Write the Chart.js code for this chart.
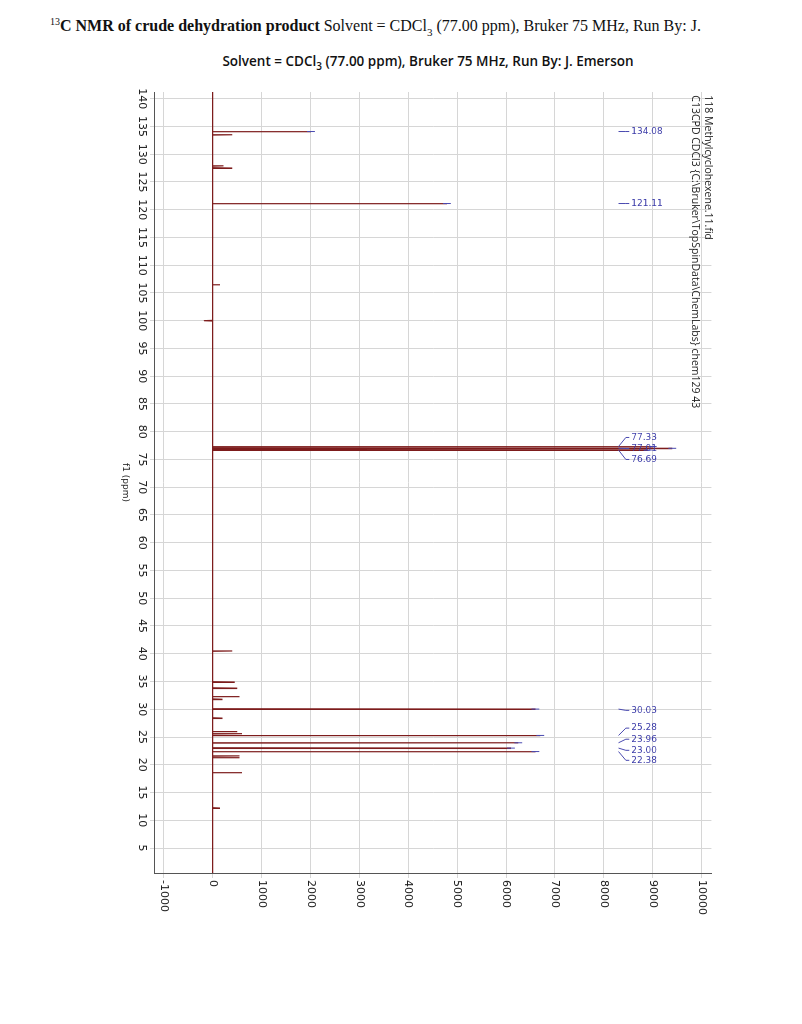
<!DOCTYPE html>
<html><head><meta charset="utf-8">
<script src="https://cdn.jsdelivr.net/npm/chart.js@4/dist/chart.umd.min.js"></script>
<style>
body{margin:0;background:#fff;width:802px;height:1024px;position:relative;overflow:hidden}
#title{position:absolute;left:50px;top:16px;font:16px "Liberation Serif",serif;color:#111;white-space:nowrap}
#sub{position:absolute;left:0;width:856px;top:52px;text-align:center;font:600 13.5px "Open Sans",sans-serif;color:#111}
#wrap{position:absolute;left:0;top:0;width:836px;height:600px;transform-origin:0 0;transform:translate(720px,85px) rotate(90deg)}
</style></head><body>
<div id="title"><sup style="font-size:10px">13</sup><b>C NMR of crude dehydration product</b> Solvent = CDCl<sub style="font-size:11px">3</sub> (77.00 ppm), Bruker 75 MHz, Run By: J.</div>
<div id="sub">Solvent = CDCl<sub style="font-size:10px">3</sub> (77.00 ppm), Bruker 75 MHz, Run By: J. Emerson</div>
<div id="wrap"><canvas id="c" width="836" height="600"></canvas></div>
<script>
// peak positions (ppm) and heights
const peakPpm    = [134.08, 133.5, 127.9, 127.5, 121.11, 106.5, 100.0, 77.33, 77.01, 76.69, 40.5, 34.9, 33.8, 32.3, 31.8, 30.03, 28.4, 26.0, 25.6, 25.28, 23.96, 23.00, 22.38, 21.6, 21.3, 18.6, 12.2];
const peakHeight = [2010, 400, 220, 400, 4790, 150, -180, 9000, 9400, 8900, 400, 450, 500, 550, 200, 6600, 200, 500, 600, 6700, 6250, 6100, 6600, 550, 550, 600, 150];
// labelled peaks and where their text sits on the ppm axis
const labelText = ['134.08', '121.11', '77.33', '77.01', '76.69', '30.03', '25.28', '23.96', '23.00', '22.38'];
const labelPpm  = [134.08, 121.11, 78.96, 76.98, 75.0, 29.8, 26.6, 24.6, 22.6, 20.8];
const ppmTicks = [140,135,130,125,120,115,110,105,100,95,90,85,80,75,70,65,60,55,50,45,40,35,30,25,20,15,10,5];
const intTicks = [-1000,0,1000,2000,3000,4000,5000,6000,7000,8000,9000,10000];

const spec = [{x:141.2,y:0}];
peakPpm.forEach((p,i)=>{spec.push({x:p+0.06,y:0},{x:p,y:peakHeight[i]},{x:p-0.06,y:0});});
spec.push({x:0.5,y:0});

const annot = {
  id:'annot',
  afterDatasetsDraw(chart){
    const c=chart.ctx, xs=chart.scales.x, ys=chart.scales.y;
    c.save();
    c.strokeStyle='#4a4ab0'; c.fillStyle='#3a3aa8'; c.lineWidth=1;
    labelText.forEach(t=>{
      const p=parseFloat(t), i=peakPpm.indexOf(p);
      if(i<0) return;
      c.beginPath(); c.moveTo(xs.getPixelForValue(p),ys.getPixelForValue(peakHeight[i]-80));
      c.lineTo(xs.getPixelForValue(p),ys.getPixelForValue(peakHeight[i]+80)); c.stroke();
    });
    labelText.forEach((t,i)=>{
      const p=parseFloat(t), lp=labelPpm[i];
      const x0=xs.getPixelForValue(p), x1=xs.getPixelForValue(lp);
      c.beginPath();
      c.moveTo(x0,ys.getPixelForValue(8300));
      c.lineTo(x1,ys.getPixelForValue(8450));
      c.lineTo(x1,ys.getPixelForValue(8520));
      c.stroke();
      c.save(); c.translate(x1,ys.getPixelForValue(8560)); c.rotate(-Math.PI/2);
      c.font='9px "DejaVu Sans"'; c.textBaseline='middle'; c.textAlign='left';
      c.fillText(t,0,0); c.restore();
    });
    c.fillStyle='#222'; c.font='10.5px "Open Sans"'; c.textBaseline='middle';
    c.fillText('118 Methylcyclohexene.11.fid', xs.getPixelForValue(140.6), 12);
    c.fillText('C13CPD CDCl3 {C:\\Bruker\\TopSpinData\\ChemLabs} chem129 43', xs.getPixelForValue(140.6), 25);
    c.restore();
  }
};

new Chart(document.getElementById('c'),{
  type:'scatter',
  data:{datasets:[{data:spec,showLine:true,pointRadius:0,borderColor:'#7d1c1c',borderWidth:1.2}]},
  options:{
    responsive:false,animation:false,
    layout:{padding:{left:7,top:0}},
    plugins:{legend:{display:false},tooltip:{enabled:false}},
    scales:{
      x:{type:'linear',reverse:true,min:0.5,max:141.2,
         afterBuildTicks(s){s.ticks=ppmTicks.map(v=>({value:v}));},
         afterFit(s){s.height=35;},
         ticks:{maxRotation:0,color:'#222',font:{size:11,family:'DejaVu Sans'},padding:2,callback:v=>String(v)},
         grid:{color:'#d6d6d6',tickLength:5},border:{color:'#555'},
         title:{display:true,text:'f1 (ppm)',font:{size:9,family:'DejaVu Sans'},padding:0,color:'#222'}},
      y:{position:'right',min:-1180,max:10200,
         afterBuildTicks(s){s.ticks=intTicks.map(v=>({value:v}));},
         afterFit(s){s.width=48;},
         ticks:{color:'#222',font:{size:11,family:'DejaVu Sans'},padding:2,callback:v=>String(v)},
         grid:{color:'#d6d6d6',tickLength:5},border:{color:'#555'}}
    }
  },
  plugins:[annot]
});
</script></body></html>
